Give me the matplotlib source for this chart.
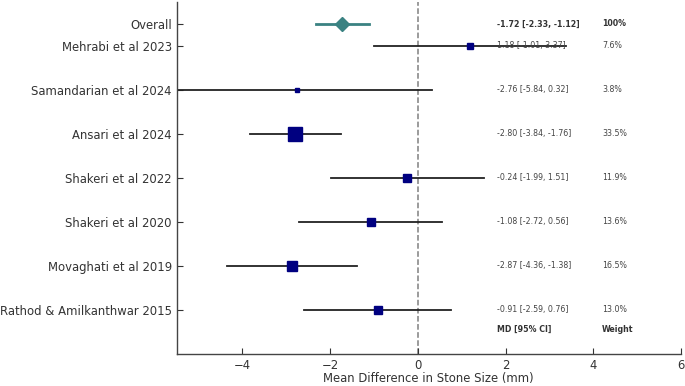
import numpy as np
import matplotlib.pyplot as plt

studies = ['Mehrabi et al 2023', 'Samandarian et al 2024', 'Ansari et al 2024',
           'Shakeri et al 2022', 'Shakeri et al 2020', 'Movaghati et al 2019',
           'Rathod & Amilkanthwar 2015']
md = [1.18, -2.76, -2.80, -0.24, -1.08, -2.87, -0.91]
lo = [-1.01, -5.84, -3.84, -1.99, -2.72, -4.36, -2.59]
hi = [3.37, 0.32, -1.76, 1.51, 0.56, -1.38, 0.76]
weight = [7.6, 3.8, 33.5, 11.9, 13.6, 16.5, 13.0]

overall_md, overall_lo, overall_hi = -1.72, -2.33, -1.12

fig, ax = plt.subplots(figsize=(6.85, 3.86), dpi=100)
fig.subplots_adjust(left=0.258, right=0.994, top=0.995, bottom=0.083)

ypos = np.arange(len(studies), 0, -1)
ytop = len(studies) + 0.5
x_ci, x_w = 1.8, 4.2

for y, m, l, h, w in zip(ypos, md, lo, hi, weight):
    ax.plot([l, h], [y, y], color='#222222', lw=1.3, zorder=2)
    ax.plot(m, y, marker='s', color='navy', ms=1.75 * np.sqrt(w), zorder=3)
    ax.text(x_ci, y, f'{m:.2f} [{l:.2f}, {h:.2f}]', fontsize=5.7,
            color='#444444', va='center')
    ax.text(x_w, y, f'{w:.1f}%', fontsize=5.7, color='#444444', va='center')

ax.plot([overall_lo, overall_hi], [ytop, ytop], color='#3a8282', lw=2, zorder=2)
ax.plot(overall_md, ytop, marker='D', color='#3a8282', ms=7, zorder=3)
ax.text(x_ci, ytop, f'{overall_md:.2f} [{overall_lo:.2f}, {overall_hi:.2f}]',
        fontsize=5.7, color='#333333', va='center', fontweight='bold')
ax.text(x_w, ytop, '100%', fontsize=5.7, color='#333333', va='center',
        fontweight='bold')

ax.text(x_ci, 0.56, 'MD [95% CI]', fontsize=5.7, color='#333333', va='center',
        fontweight='bold')
ax.text(x_w, 0.56, 'Weight', fontsize=5.7, color='#333333', va='center',
        fontweight='bold')

ax.axvline(0, color='gray', ls='--', lw=1.1, zorder=1)

ax.set_xlim(-5.5, 6)
ax.set_ylim(0, len(studies) + 1)
ax.set_yticks(list(ypos) + [ytop])
ax.set_yticklabels(studies + ['Overall'])
ax.set_xticks([-4, -2, 0, 2, 4, 6])
ax.set_xticklabels(['\u22124', '\u22122', '0', '2', '4', '6'])
ax.set_xlabel('Mean Difference in Stone Size (mm)', fontsize=8.4, color='#333333',
              labelpad=0)

ax.tick_params(direction='in', labelsize=8.4, colors='#333333', length=4, width=0.8)
for s in ['top', 'right']:
    ax.spines[s].set_visible(False)
for s in ['left', 'bottom']:
    ax.spines[s].set_color('#444444')
    ax.spines[s].set_linewidth(1.0)

fig.savefig('out.png', dpi=100)
